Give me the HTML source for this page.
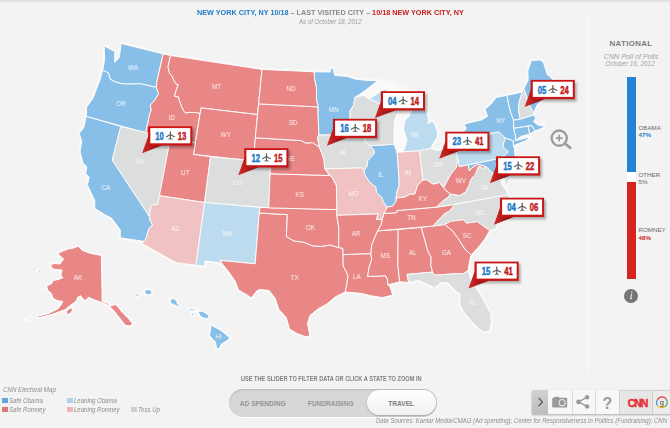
<!DOCTYPE html>
<html><head><meta charset="utf-8">
<style>
html,body{margin:0;padding:0;}
body{width:670px;height:428px;overflow:hidden;position:relative;background:#f3f3f3;font-family:"Liberation Sans",sans-serif;}
.abs{position:absolute;}
#topshade{left:0;top:0;width:670px;height:3px;background:linear-gradient(#dcdcdc,rgba(243,243,243,0));}
#hdr{left:196.7px;top:7.9px;font-weight:bold;font-size:7.8px;white-space:nowrap;transform-origin:0 0;transform:scaleX(0.929);}
#hdr .b{color:#1f7ac9}#hdr .g{color:#8a8a8a}#hdr .r{color:#cc1b1b}
#asof{left:299px;top:17.6px;font-style:italic;font-size:7px;color:#9a9a9a;white-space:nowrap;transform-origin:0 0;transform:scaleX(0.87);}
#vline{left:588px;top:17px;width:1px;height:357px;background:#fbfbfb;}
svg#map{left:0;top:0;}
.nat{left:590px;width:80px;text-align:center;color:#7a7a7a;}
.cal{position:absolute;}
</style></head><body>
<div class="abs" id="topshade"></div>
<div class="abs" id="hdr"><span class="b">NEW YORK CITY, NY 10/18</span> <span class="g">– LAST VISITED CITY –</span> <span class="r">10/18 NEW YORK CITY, NY</span></div>
<div class="abs" id="asof">As of October 18, 2012</div>
<div class="abs" id="vline"></div>
<svg id="map" class="abs" width="670" height="428" viewBox="0 0 670 428">
<g filter="url(#lk)"><defs><filter id="lk"><feGaussianBlur stdDeviation="0.8"/></filter></defs><path fill="#f9f9f9" d="M354.9,97.4 L365.9,90.1 L378.0,80.3 L384.2,79.3 L396.3,82.9 L408.7,88.4 L414.7,92.2 L415.8,95.5 L411.6,93.2 L400.3,98.0 L393.1,98.1 L386.1,91.8 L373.6,96.0 L368.9,98.9 L363.8,95.4Z"/><path fill="#f9f9f9" d="M394.1,144.2 L397.2,153.1 L403.1,151.8 L405.2,146.6 L407.0,139.4 L403.5,129.4 L405.0,120.0 L409.4,116.0 L410.0,113.6 L413.4,108.5 L415.2,103.7 L408.7,102.2 L400.9,104.2 L397.2,106.9 L393.0,114.2 L397.6,111.5 L394.5,121.0 L393.9,132.7Z"/></g>
<g stroke="#ffffff" stroke-width="2.6" stroke-linejoin="round" stroke-opacity="0.75" fill="#fafafa">
<path d="M104.3,45.8 L110.0,49.0 L114.9,51.6 L114.6,62.2 L119.1,58.1 L120.5,49.1 L120.9,43.4 L163.2,53.9 L156.7,82.4 L156.5,87.5 L140.3,83.7 L137.0,83.8 L127.8,84.1 L122.1,83.8 L115.9,82.1 L110.0,79.2 L108.5,72.9 L102.6,70.3 L104.0,63.2 L104.6,58.6 L104.4,51.5Z"/>
<path d="M102.6,70.3 L108.5,72.9 L110.0,79.2 L115.9,82.1 L122.1,83.8 L127.8,84.1 L137.0,83.8 L140.3,83.7 L156.5,87.5 L158.7,93.9 L154.7,100.1 L150.3,105.1 L151.3,110.1 L149.8,113.4 L145.6,132.8 L86.3,116.4 L86.7,106.9 L93.1,98.1 L100.4,78.8Z"/>
<path d="M86.3,116.4 L120.9,126.5 L112.2,160.0 L149.6,216.7 L149.7,219.0 L152.7,225.3 L149.2,228.0 L146.0,238.6 L143.5,241.3 L120.3,237.8 L120.3,230.0 L115.1,222.8 L111.4,218.0 L105.3,214.9 L94.7,208.4 L94.8,200.9 L87.3,184.7 L89.4,177.6 L85.7,173.6 L86.8,166.8 L83.1,163.3 L80.1,151.6 L81.8,141.4 L79.2,133.4 L83.8,127.6 L85.7,118.6Z"/>
<path d="M120.9,126.5 L170.4,138.3 L159.4,195.7 L157.7,204.6 L152.4,204.7 L150.4,207.7 L149.6,216.7 L112.2,160.0Z"/>
<path d="M163.2,53.9 L170.5,55.5 L168.0,66.8 L169.5,73.2 L172.1,76.1 L174.0,80.6 L176.5,84.3 L178.3,84.3 L176.1,90.4 L174.5,96.4 L178.5,96.8 L179.5,100.6 L181.4,106.2 L184.1,111.5 L185.6,112.8 L189.0,112.4 L196.5,112.5 L200.0,113.7 L195.3,142.7 L145.6,132.8 L149.8,113.4 L151.3,110.1 L150.3,105.1 L154.7,100.1 L158.7,93.9 L156.5,87.5 L156.7,82.4Z"/>
<path d="M170.5,55.5 L262.0,69.4 L257.5,114.6 L201.0,107.9 L200.0,113.7 L196.5,112.5 L189.0,112.4 L185.6,112.8 L184.1,111.5 L181.4,106.2 L179.5,100.6 L178.5,96.8 L174.5,96.4 L176.1,90.4 L178.3,84.3 L176.5,84.3 L174.0,80.6 L172.1,76.1 L169.5,73.2 L168.0,66.8Z"/>
<path d="M201.0,107.9 L257.5,114.6 L253.4,161.0 L193.5,154.4Z"/>
<path d="M170.4,138.3 L195.3,142.7 L193.5,154.4 L210.5,156.7 L204.6,202.5 L159.4,195.7Z"/>
<path d="M210.5,156.7 L270.7,162.2 L268.7,207.9 L204.6,202.5Z"/>
<path d="M159.4,195.7 L204.6,202.5 L196.0,265.2 L176.2,262.7 L142.2,243.6 L143.5,241.3 L146.0,238.6 L149.2,228.0 L152.7,225.3 L149.7,219.0 L149.6,216.7 L150.4,207.7 L152.4,204.7 L157.7,204.6Z"/>
<path d="M204.6,202.5 L260.0,207.4 L259.2,213.0 L255.2,263.8 L220.7,260.4 L221.6,262.9 L205.1,261.1 L204.4,266.1 L196.0,265.2Z"/>
<path d="M259.2,213.0 L287.3,214.6 L286.4,236.6 L293.8,240.9 L304.2,242.3 L312.7,245.8 L321.2,246.4 L329.9,245.0 L338.7,247.5 L342.9,248.4 L343.0,254.6 L343.2,265.9 L345.6,270.4 L348.1,276.0 L346.7,285.1 L345.2,292.0 L335.4,296.8 L327.0,303.9 L318.5,308.6 L309.9,315.5 L307.5,323.6 L309.8,335.7 L306.0,336.8 L297.7,333.8 L289.6,329.1 L286.2,317.5 L278.6,309.1 L275.4,298.6 L269.1,290.5 L259.3,289.4 L256.1,291.5 L251.5,298.0 L247.8,295.4 L238.4,289.8 L235.3,281.4 L229.4,272.7 L221.6,262.9 L220.7,260.4 L255.2,263.8Z"/>
<path d="M260.0,207.4 L336.7,209.6 L336.8,215.3 L338.8,227.7 L338.7,247.5 L329.9,245.0 L321.2,246.4 L312.7,245.8 L304.2,242.3 L293.8,240.9 L286.4,236.6 L287.3,214.6 L259.2,213.0Z"/>
<path d="M270.1,173.8 L329.7,175.5 L332.6,177.2 L333.6,180.6 L336.4,185.2 L336.8,209.6 L268.7,207.9Z"/>
<path d="M255.3,137.8 L301.5,140.6 L305.7,143.0 L312.5,142.6 L319.0,146.8 L322.2,153.7 L324.1,160.6 L324.7,168.7 L329.7,175.5 L270.1,173.8 L270.7,162.2 L253.4,161.0Z"/>
<path d="M258.6,103.9 L318.2,106.9 L318.1,113.1 L318.9,135.1 L317.6,137.5 L319.0,146.8 L312.5,142.6 L305.7,143.0 L301.5,140.6 L255.3,137.8Z"/>
<path d="M262.0,69.4 L314.2,71.8 L314.6,78.6 L316.5,87.8 L316.5,99.2 L318.2,106.9 L258.6,103.9Z"/>
<path d="M314.2,71.8 L330.4,72.0 L330.4,67.7 L333.1,68.6 L334.6,75.4 L347.2,76.4 L355.1,79.1 L363.0,80.0 L371.0,80.7 L378.0,80.3 L365.9,90.1 L354.9,97.4 L353.6,105.2 L350.0,111.2 L349.9,120.5 L354.3,122.7 L357.9,126.7 L364.2,134.5 L318.9,135.1 L318.1,113.1 L318.2,106.9 L316.5,99.2 L316.5,87.8 L314.6,78.6Z"/>
<path d="M318.9,135.1 L364.2,134.5 L365.7,142.5 L369.9,145.8 L374.1,150.2 L374.3,153.6 L367.7,160.8 L367.1,166.6 L364.2,170.5 L361.6,167.9 L325.5,168.9 L324.7,168.7 L324.1,160.6 L322.2,153.7 L319.0,146.8 L317.6,137.5Z"/>
<path d="M325.5,168.9 L361.6,167.9 L364.2,170.5 L364.8,174.7 L369.1,181.4 L372.4,184.6 L376.1,187.3 L376.4,192.4 L382.1,197.7 L383.0,201.1 L386.7,207.1 L386.4,209.4 L383.9,213.5 L382.4,219.3 L376.3,219.6 L378.0,213.9 L336.8,215.3 L336.8,209.6 L336.4,185.2 L333.6,180.6 L332.6,177.2 L329.7,175.5Z"/>
<path d="M336.8,215.3 L378.0,213.9 L376.3,219.6 L382.4,219.3 L381.0,225.0 L377.6,230.9 L375.1,236.7 L371.8,244.7 L370.9,253.8 L343.0,254.6 L342.9,248.4 L338.7,247.5 L338.8,227.7Z"/>
<path d="M343.0,254.6 L370.9,253.8 L371.7,259.4 L369.1,267.4 L367.6,276.5 L385.8,275.8 L387.6,280.2 L387.9,284.8 L390.1,286.9 L392.6,294.8 L388.6,296.1 L382.6,297.6 L371.3,295.8 L361.0,293.3 L345.2,292.0 L346.7,285.1 L348.1,276.0 L345.6,270.4 L343.2,265.9Z"/>
<path d="M377.6,230.9 L397.1,229.6 L398.2,230.7 L397.8,264.8 L399.7,281.8 L387.9,284.8 L387.6,280.2 L385.8,275.8 L367.6,276.5 L369.1,267.4 L371.7,259.4 L370.9,253.8 L371.8,244.7 L375.1,236.7Z"/>
<path d="M397.1,229.6 L421.3,227.4 L428.1,251.9 L431.2,257.3 L430.7,265.4 L432.6,272.1 L407.0,274.4 L408.7,282.3 L399.7,281.8 L397.8,264.8 L398.2,230.7Z"/>
<path d="M421.3,227.4 L444.6,224.5 L452.2,230.4 L458.4,238.7 L465.0,249.3 L471.2,254.9 L469.5,261.4 L468.1,270.6 L463.1,273.9 L461.0,273.4 L434.4,275.2 L432.6,272.1 L430.7,265.4 L431.2,257.3 L428.1,251.9Z"/>
<path d="M407.0,274.4 L432.6,272.1 L434.4,275.2 L461.0,273.4 L463.1,273.9 L468.1,270.6 L471.4,280.7 L476.9,289.1 L483.0,299.6 L490.7,313.3 L491.2,323.8 L489.5,330.6 L483.4,332.2 L474.7,325.0 L469.5,318.9 L462.9,310.7 L459.8,304.3 L460.2,293.9 L455.6,291.1 L448.2,282.9 L441.1,282.6 L434.6,287.9 L429.2,285.1 L418.6,280.4 L408.7,282.3Z"/>
<path d="M377.6,230.9 L433.2,226.0 L435.8,222.8 L440.0,218.8 L444.9,213.5 L450.1,210.9 L454.9,204.4 L436.6,207.1 L396.8,210.6 L396.9,212.6 L383.9,213.5 L382.4,219.3 L381.0,225.0Z"/>
<path d="M383.9,213.5 L396.9,212.6 L396.8,210.6 L436.6,207.1 L442.2,201.7 L448.0,197.2 L450.5,194.0 L446.0,190.6 L443.7,187.8 L439.3,182.3 L433.3,184.1 L426.5,179.6 L422.9,180.1 L417.5,185.4 L414.8,193.8 L409.5,194.3 L404.4,197.1 L396.1,197.9 L395.8,201.3 L392.5,206.1 L386.7,207.1 L386.4,209.4Z"/>
<path d="M369.9,145.8 L394.1,144.2 L397.2,153.1 L399.2,179.9 L399.0,185.6 L396.9,192.1 L396.1,197.9 L395.8,201.3 L392.5,206.1 L386.7,207.1 L383.0,201.1 L382.1,197.7 L376.4,192.4 L376.1,187.3 L372.4,184.6 L369.1,181.4 L364.8,174.7 L364.2,170.5 L367.1,166.6 L367.7,160.8 L374.3,153.6 L374.1,150.2Z"/>
<path d="M397.1,152.4 L419.7,150.5 L422.9,180.1 L417.5,185.4 L414.8,193.8 L409.5,194.3 L404.4,197.1 L396.1,197.9 L396.9,192.1 L399.0,185.6 L399.2,179.9Z"/>
<path d="M419.7,150.5 L430.8,148.4 L437.5,150.5 L445.7,148.4 L454.8,141.0 L457.3,156.2 L457.5,161.4 L456.3,167.5 L452.2,172.4 L449.3,177.1 L446.5,182.3 L443.7,187.8 L439.3,182.3 L433.3,184.1 L426.5,179.6 L422.9,180.1Z"/>
<path d="M403.1,151.8 L419.7,150.5 L430.8,148.4 L433.2,143.7 L437.3,137.2 L437.5,132.5 L434.7,123.7 L432.0,121.3 L428.2,123.7 L428.3,117.9 L426.6,111.2 L420.4,106.4 L415.2,103.7 L413.4,108.5 L410.0,113.6 L409.4,116.0 L405.0,120.0 L403.5,129.4 L407.0,139.4 L405.2,146.6Z"/>
<path d="M368.9,98.9 L379.9,103.7 L388.1,105.4 L393.0,114.2 L397.2,106.9 L400.9,104.2 L408.7,102.2 L415.2,103.1 L420.5,100.6 L418.2,95.2 L411.6,93.2 L400.3,98.0 L393.1,98.1 L386.1,91.8 L388.9,87.5 L381.2,91.0 L373.6,96.0Z"/>
<path d="M354.9,97.4 L363.8,95.4 L368.9,98.9 L379.9,103.7 L388.1,105.4 L393.0,114.2 L397.6,111.5 L394.5,121.0 L393.9,132.7 L394.1,144.2 L369.9,145.8 L365.7,142.5 L364.2,134.5 L357.9,126.7 L354.3,122.7 L349.9,120.5 L350.0,111.2 L353.6,105.2Z"/>
<path d="M454.8,141.0 L460.6,136.4 L461.1,139.4 L498.2,131.8 L500.8,133.6 L505.4,138.1 L503.3,144.3 L503.2,147.3 L508.4,151.7 L505.8,154.5 L502.7,156.6 L500.4,158.3 L459.1,166.7Z"/>
<path d="M461.1,139.4 L498.2,131.8 L500.8,133.6 L505.4,138.1 L513.2,140.8 L513.2,144.3 L514.3,145.3 L525.7,140.8 L530.3,136.8 L521.7,139.2 L515.3,140.4 L515.7,136.8 L513.6,128.4 L513.6,120.2 L510.2,111.0 L506.8,95.3 L496.1,97.5 L490.9,104.3 L485.1,108.9 L487.5,116.4 L481.3,120.0 L464.5,123.9 L465.0,126.9 L466.5,127.8 L460.6,136.4Z"/>
<path d="M506.8,95.3 L521.4,92.3 L521.8,93.5 L519.5,101.0 L518.3,109.4 L520.3,119.2 L513.6,120.2 L510.2,111.0Z"/>
<path d="M521.4,92.3 L523.9,88.3 L526.9,97.1 L529.2,104.9 L532.2,110.2 L533.7,112.6 L533.4,115.1 L520.3,119.2 L518.3,109.4 L519.5,101.0 L521.8,93.5Z"/>
<path d="M523.9,88.3 L528.1,80.2 L527.9,70.7 L531.3,60.8 L539.4,59.8 L543.3,62.0 L547.3,74.6 L551.0,77.6 L557.3,85.6 L550.9,92.4 L544.1,97.9 L537.4,104.4 L533.7,112.6 L532.2,110.2 L529.2,104.9 L526.9,97.1Z"/>
<path d="M513.6,128.4 L513.6,120.2 L520.3,119.2 L533.4,115.1 L536.0,117.7 L533.7,121.7 L538.1,125.0 L543.7,126.1 L542.7,122.8 L544.4,126.9 L539.3,129.4 L535.2,130.8 L531.4,125.5 L527.9,126.1Z"/>
<path d="M527.9,126.1 L531.4,125.5 L535.2,130.8 L529.6,134.0Z"/>
<path d="M513.6,128.4 L527.9,126.1 L529.6,134.0 L520.9,136.4 L515.3,140.4 L515.7,136.8Z"/>
<path d="M505.4,138.1 L513.2,140.8 L513.2,144.3 L513.7,146.5 L514.5,148.8 L515.0,155.2 L513.7,160.7 L509.9,165.9 L506.7,162.1 L502.8,159.3 L502.7,156.6 L505.8,154.5 L508.4,151.7 L503.2,147.3 L503.3,144.3Z"/>
<path d="M500.4,158.3 L502.7,156.6 L502.8,159.3 L505.0,162.4 L509.4,167.5 L510.4,171.5 L504.6,172.7Z"/>
<path d="M468.2,164.9 L500.4,158.3 L504.6,172.7 L510.4,171.5 L509.9,176.6 L504.2,178.8 L500.7,171.7 L496.2,164.2 L496.4,168.9 L500.4,178.3 L491.6,172.3 L486.8,167.3 L484.6,166.3 L477.9,164.3 L473.0,167.1 L469.3,170.9Z"/>
<path d="M436.6,207.1 L454.9,204.4 L508.2,194.7 L505.8,189.8 L501.8,184.6 L500.4,178.3 L491.6,172.3 L486.8,167.3 L484.6,166.3 L484.1,168.7 L478.7,166.0 L475.4,174.4 L470.8,179.5 L469.1,185.2 L465.7,191.8 L459.8,195.5 L450.5,194.0 L448.0,197.2 L442.2,201.7Z"/>
<path d="M509.9,176.6 L504.2,178.8 L506.0,188.6 L507.8,182.2Z"/>
<path d="M457.3,156.2 L459.1,166.7 L468.2,164.9 L469.3,170.9 L473.0,167.1 L477.9,164.3 L484.6,166.3 L484.1,168.7 L478.7,166.0 L475.4,174.4 L470.8,179.5 L469.1,185.2 L465.7,191.8 L459.8,195.5 L450.5,194.0 L446.0,190.6 L443.7,187.8 L446.5,182.3 L449.3,177.1 L452.2,172.4 L456.3,167.5 L457.5,161.4Z"/>
<path d="M433.2,226.0 L444.6,224.5 L450.8,221.3 L463.5,219.8 L466.5,223.2 L477.1,221.6 L489.7,230.4 L495.7,228.7 L498.3,222.3 L507.0,217.0 L510.6,211.5 L514.8,208.8 L512.3,201.6 L508.2,194.7 L454.9,204.4 L450.1,210.9 L444.9,213.5 L440.0,218.8 L435.8,222.8Z"/>
<path d="M444.6,224.5 L450.8,221.3 L463.5,219.8 L466.5,223.2 L477.1,221.6 L489.7,230.4 L484.9,239.0 L478.5,247.1 L471.2,254.9 L465.0,249.3 L458.4,238.7 L452.2,230.4Z"/>
<path d="M58.0,253.3 L62.0,251.5 L67.8,249.1 L72.0,248.4 L78.3,246.3 L82.5,250.5 L90.2,253.3 L101.3,255.4 L101.8,280.0 L102.2,301.4 L107.2,303.1 L110.5,306.3 L114.6,304.7 L117.0,305.5 L122.0,312.1 L128.5,318.7 L132.6,323.6 L130.2,326.0 L125.2,325.2 L119.5,317.8 L112.9,309.6 L107.2,304.7 L102.2,302.6 L94.7,299.9 L88.3,297.3 L85.8,300.6 L82.5,298.5 L80.9,295.7 L77.6,297.3 L76.0,301.4 L71.0,304.7 L65.3,309.6 L60.4,311.3 L51.3,314.6 L41.5,317.0 L36.6,317.8 L37.4,316.2 L48.0,313.7 L57.9,308.8 L61.2,304.7 L62.8,301.4 L57.0,300.5 L53.0,298.1 L51.3,293.2 L47.5,290.0 L46.8,286.2 L51.7,283.4 L53.1,280.6 L58.0,279.5 L62.9,277.8 L60.8,275.0 L62.2,270.1 L56.0,269.5 L52.4,268.7 L50.3,264.5 L55.0,263.5 L60.0,264.0 L63.6,258.9 L60.0,256.0Z"/><path d="M66.9,310.5 L70.5,308 L72.7,309 L71.5,312.5 L68,314.6 L66.5,313 Z"/><path d="M38.4,270.5 L41.2,271.5 L40.5,273.6 L38.6,272.5 Z"/><path d="M41.2,289.7 L43.3,290 L43,291.3 L41.3,291 Z"/><path d="M29,318.3 L31.5,317.8 L31.2,319.3 L29.3,319.5Z"/><path d="M24,319.6 L26,319.2 L25.8,320.6Z"/>
<g fill="#88bfe9"><ellipse cx="96.6" cy="218.4" rx="1" ry="0.6"/><ellipse cx="99.3" cy="218.7" rx="1" ry="0.6"/><ellipse cx="110.2" cy="228.4" rx="0.8" ry="0.8"/><ellipse cx="108.1" cy="234.2" rx="0.6" ry="0.6"/></g><path d="M135.5,294.5 L137.5,293.8 L138.8,295.5 L137,297 Z"/><path d="M144.5,290.5 L148,289.5 L151.5,290.5 L151.8,293.5 L149,295 L145.5,294 Z"/><path d="M170,300 L173.5,298.5 L176.5,300.5 L177.5,304 L180,305.5 L178,306.5 L173.5,304.5 L170.5,303 Z"/><path d="M187.5,308.5 L192,308.8 L196.5,309.5 L195.5,310.5 L190,310.2 Z"/><path d="M191.5,313 L193.8,313 L194.5,315 L192.5,315.5 Z"/><path d="M198,311.5 L202,311 L206,313.5 L209.5,316 L207.5,318.5 L203.5,318 L200,316 Z"/><path d="M211,325 L214.5,327 L221,330.5 L226,334.5 L230,338 L226.5,341 L221.5,344 L219,349 L216.5,348.5 L215.5,342 L212.5,339 L209.5,335 L210.5,330 Z"/>
</g>
<g stroke="#fbfbfb" stroke-width="1.0" stroke-linejoin="round">
<path fill="#88bfe9" d="M104.3,45.8 L110.0,49.0 L114.9,51.6 L114.6,62.2 L119.1,58.1 L120.5,49.1 L120.9,43.4 L163.2,53.9 L156.7,82.4 L156.5,87.5 L140.3,83.7 L137.0,83.8 L127.8,84.1 L122.1,83.8 L115.9,82.1 L110.0,79.2 L108.5,72.9 L102.6,70.3 L104.0,63.2 L104.6,58.6 L104.4,51.5Z"/>
<path fill="#88bfe9" d="M102.6,70.3 L108.5,72.9 L110.0,79.2 L115.9,82.1 L122.1,83.8 L127.8,84.1 L137.0,83.8 L140.3,83.7 L156.5,87.5 L158.7,93.9 L154.7,100.1 L150.3,105.1 L151.3,110.1 L149.8,113.4 L145.6,132.8 L86.3,116.4 L86.7,106.9 L93.1,98.1 L100.4,78.8Z"/>
<path fill="#88bfe9" d="M86.3,116.4 L120.9,126.5 L112.2,160.0 L149.6,216.7 L149.7,219.0 L152.7,225.3 L149.2,228.0 L146.0,238.6 L143.5,241.3 L120.3,237.8 L120.3,230.0 L115.1,222.8 L111.4,218.0 L105.3,214.9 L94.7,208.4 L94.8,200.9 L87.3,184.7 L89.4,177.6 L85.7,173.6 L86.8,166.8 L83.1,163.3 L80.1,151.6 L81.8,141.4 L79.2,133.4 L83.8,127.6 L85.7,118.6Z"/>
<path fill="#dcdede" d="M120.9,126.5 L170.4,138.3 L159.4,195.7 L157.7,204.6 L152.4,204.7 L150.4,207.7 L149.6,216.7 L112.2,160.0Z"/>
<path fill="#e98786" d="M163.2,53.9 L170.5,55.5 L168.0,66.8 L169.5,73.2 L172.1,76.1 L174.0,80.6 L176.5,84.3 L178.3,84.3 L176.1,90.4 L174.5,96.4 L178.5,96.8 L179.5,100.6 L181.4,106.2 L184.1,111.5 L185.6,112.8 L189.0,112.4 L196.5,112.5 L200.0,113.7 L195.3,142.7 L145.6,132.8 L149.8,113.4 L151.3,110.1 L150.3,105.1 L154.7,100.1 L158.7,93.9 L156.5,87.5 L156.7,82.4Z"/>
<path fill="#e98786" d="M170.5,55.5 L262.0,69.4 L257.5,114.6 L201.0,107.9 L200.0,113.7 L196.5,112.5 L189.0,112.4 L185.6,112.8 L184.1,111.5 L181.4,106.2 L179.5,100.6 L178.5,96.8 L174.5,96.4 L176.1,90.4 L178.3,84.3 L176.5,84.3 L174.0,80.6 L172.1,76.1 L169.5,73.2 L168.0,66.8Z"/>
<path fill="#e98786" d="M201.0,107.9 L257.5,114.6 L253.4,161.0 L193.5,154.4Z"/>
<path fill="#e98786" d="M170.4,138.3 L195.3,142.7 L193.5,154.4 L210.5,156.7 L204.6,202.5 L159.4,195.7Z"/>
<path fill="#dcdede" d="M210.5,156.7 L270.7,162.2 L268.7,207.9 L204.6,202.5Z"/>
<path fill="#f1c2c4" d="M159.4,195.7 L204.6,202.5 L196.0,265.2 L176.2,262.7 L142.2,243.6 L143.5,241.3 L146.0,238.6 L149.2,228.0 L152.7,225.3 L149.7,219.0 L149.6,216.7 L150.4,207.7 L152.4,204.7 L157.7,204.6Z"/>
<path fill="#bddbee" d="M204.6,202.5 L260.0,207.4 L259.2,213.0 L255.2,263.8 L220.7,260.4 L221.6,262.9 L205.1,261.1 L204.4,266.1 L196.0,265.2Z"/>
<path fill="#e98786" d="M259.2,213.0 L287.3,214.6 L286.4,236.6 L293.8,240.9 L304.2,242.3 L312.7,245.8 L321.2,246.4 L329.9,245.0 L338.7,247.5 L342.9,248.4 L343.0,254.6 L343.2,265.9 L345.6,270.4 L348.1,276.0 L346.7,285.1 L345.2,292.0 L335.4,296.8 L327.0,303.9 L318.5,308.6 L309.9,315.5 L307.5,323.6 L309.8,335.7 L306.0,336.8 L297.7,333.8 L289.6,329.1 L286.2,317.5 L278.6,309.1 L275.4,298.6 L269.1,290.5 L259.3,289.4 L256.1,291.5 L251.5,298.0 L247.8,295.4 L238.4,289.8 L235.3,281.4 L229.4,272.7 L221.6,262.9 L220.7,260.4 L255.2,263.8Z"/>
<path fill="#e98786" d="M260.0,207.4 L336.7,209.6 L336.8,215.3 L338.8,227.7 L338.7,247.5 L329.9,245.0 L321.2,246.4 L312.7,245.8 L304.2,242.3 L293.8,240.9 L286.4,236.6 L287.3,214.6 L259.2,213.0Z"/>
<path fill="#e98786" d="M270.1,173.8 L329.7,175.5 L332.6,177.2 L333.6,180.6 L336.4,185.2 L336.8,209.6 L268.7,207.9Z"/>
<path fill="#e98786" d="M255.3,137.8 L301.5,140.6 L305.7,143.0 L312.5,142.6 L319.0,146.8 L322.2,153.7 L324.1,160.6 L324.7,168.7 L329.7,175.5 L270.1,173.8 L270.7,162.2 L253.4,161.0Z"/>
<path fill="#e98786" d="M258.6,103.9 L318.2,106.9 L318.1,113.1 L318.9,135.1 L317.6,137.5 L319.0,146.8 L312.5,142.6 L305.7,143.0 L301.5,140.6 L255.3,137.8Z"/>
<path fill="#e98786" d="M262.0,69.4 L314.2,71.8 L314.6,78.6 L316.5,87.8 L316.5,99.2 L318.2,106.9 L258.6,103.9Z"/>
<path fill="#88bfe9" d="M314.2,71.8 L330.4,72.0 L330.4,67.7 L333.1,68.6 L334.6,75.4 L347.2,76.4 L355.1,79.1 L363.0,80.0 L371.0,80.7 L378.0,80.3 L365.9,90.1 L354.9,97.4 L353.6,105.2 L350.0,111.2 L349.9,120.5 L354.3,122.7 L357.9,126.7 L364.2,134.5 L318.9,135.1 L318.1,113.1 L318.2,106.9 L316.5,99.2 L316.5,87.8 L314.6,78.6Z"/>
<path fill="#dcdede" d="M318.9,135.1 L364.2,134.5 L365.7,142.5 L369.9,145.8 L374.1,150.2 L374.3,153.6 L367.7,160.8 L367.1,166.6 L364.2,170.5 L361.6,167.9 L325.5,168.9 L324.7,168.7 L324.1,160.6 L322.2,153.7 L319.0,146.8 L317.6,137.5Z"/>
<path fill="#f1c2c4" d="M325.5,168.9 L361.6,167.9 L364.2,170.5 L364.8,174.7 L369.1,181.4 L372.4,184.6 L376.1,187.3 L376.4,192.4 L382.1,197.7 L383.0,201.1 L386.7,207.1 L386.4,209.4 L383.9,213.5 L382.4,219.3 L376.3,219.6 L378.0,213.9 L336.8,215.3 L336.8,209.6 L336.4,185.2 L333.6,180.6 L332.6,177.2 L329.7,175.5Z"/>
<path fill="#e98786" d="M336.8,215.3 L378.0,213.9 L376.3,219.6 L382.4,219.3 L381.0,225.0 L377.6,230.9 L375.1,236.7 L371.8,244.7 L370.9,253.8 L343.0,254.6 L342.9,248.4 L338.7,247.5 L338.8,227.7Z"/>
<path fill="#e98786" d="M343.0,254.6 L370.9,253.8 L371.7,259.4 L369.1,267.4 L367.6,276.5 L385.8,275.8 L387.6,280.2 L387.9,284.8 L390.1,286.9 L392.6,294.8 L388.6,296.1 L382.6,297.6 L371.3,295.8 L361.0,293.3 L345.2,292.0 L346.7,285.1 L348.1,276.0 L345.6,270.4 L343.2,265.9Z"/>
<path fill="#e98786" d="M377.6,230.9 L397.1,229.6 L398.2,230.7 L397.8,264.8 L399.7,281.8 L387.9,284.8 L387.6,280.2 L385.8,275.8 L367.6,276.5 L369.1,267.4 L371.7,259.4 L370.9,253.8 L371.8,244.7 L375.1,236.7Z"/>
<path fill="#e98786" d="M397.1,229.6 L421.3,227.4 L428.1,251.9 L431.2,257.3 L430.7,265.4 L432.6,272.1 L407.0,274.4 L408.7,282.3 L399.7,281.8 L397.8,264.8 L398.2,230.7Z"/>
<path fill="#e98786" d="M421.3,227.4 L444.6,224.5 L452.2,230.4 L458.4,238.7 L465.0,249.3 L471.2,254.9 L469.5,261.4 L468.1,270.6 L463.1,273.9 L461.0,273.4 L434.4,275.2 L432.6,272.1 L430.7,265.4 L431.2,257.3 L428.1,251.9Z"/>
<path fill="#dcdede" d="M407.0,274.4 L432.6,272.1 L434.4,275.2 L461.0,273.4 L463.1,273.9 L468.1,270.6 L471.4,280.7 L476.9,289.1 L483.0,299.6 L490.7,313.3 L491.2,323.8 L489.5,330.6 L483.4,332.2 L474.7,325.0 L469.5,318.9 L462.9,310.7 L459.8,304.3 L460.2,293.9 L455.6,291.1 L448.2,282.9 L441.1,282.6 L434.6,287.9 L429.2,285.1 L418.6,280.4 L408.7,282.3Z"/>
<path fill="#e98786" d="M377.6,230.9 L433.2,226.0 L435.8,222.8 L440.0,218.8 L444.9,213.5 L450.1,210.9 L454.9,204.4 L436.6,207.1 L396.8,210.6 L396.9,212.6 L383.9,213.5 L382.4,219.3 L381.0,225.0Z"/>
<path fill="#e98786" d="M383.9,213.5 L396.9,212.6 L396.8,210.6 L436.6,207.1 L442.2,201.7 L448.0,197.2 L450.5,194.0 L446.0,190.6 L443.7,187.8 L439.3,182.3 L433.3,184.1 L426.5,179.6 L422.9,180.1 L417.5,185.4 L414.8,193.8 L409.5,194.3 L404.4,197.1 L396.1,197.9 L395.8,201.3 L392.5,206.1 L386.7,207.1 L386.4,209.4Z"/>
<path fill="#88bfe9" d="M369.9,145.8 L394.1,144.2 L397.2,153.1 L399.2,179.9 L399.0,185.6 L396.9,192.1 L396.1,197.9 L395.8,201.3 L392.5,206.1 L386.7,207.1 L383.0,201.1 L382.1,197.7 L376.4,192.4 L376.1,187.3 L372.4,184.6 L369.1,181.4 L364.8,174.7 L364.2,170.5 L367.1,166.6 L367.7,160.8 L374.3,153.6 L374.1,150.2Z"/>
<path fill="#f1c2c4" d="M397.1,152.4 L419.7,150.5 L422.9,180.1 L417.5,185.4 L414.8,193.8 L409.5,194.3 L404.4,197.1 L396.1,197.9 L396.9,192.1 L399.0,185.6 L399.2,179.9Z"/>
<path fill="#dcdede" d="M419.7,150.5 L430.8,148.4 L437.5,150.5 L445.7,148.4 L454.8,141.0 L457.3,156.2 L457.5,161.4 L456.3,167.5 L452.2,172.4 L449.3,177.1 L446.5,182.3 L443.7,187.8 L439.3,182.3 L433.3,184.1 L426.5,179.6 L422.9,180.1Z"/>
<path fill="#bddbee" d="M403.1,151.8 L419.7,150.5 L430.8,148.4 L433.2,143.7 L437.3,137.2 L437.5,132.5 L434.7,123.7 L432.0,121.3 L428.2,123.7 L428.3,117.9 L426.6,111.2 L420.4,106.4 L415.2,103.7 L413.4,108.5 L410.0,113.6 L409.4,116.0 L405.0,120.0 L403.5,129.4 L407.0,139.4 L405.2,146.6Z"/>
<path fill="#bddbee" d="M368.9,98.9 L379.9,103.7 L388.1,105.4 L393.0,114.2 L397.2,106.9 L400.9,104.2 L408.7,102.2 L415.2,103.1 L420.5,100.6 L418.2,95.2 L411.6,93.2 L400.3,98.0 L393.1,98.1 L386.1,91.8 L388.9,87.5 L381.2,91.0 L373.6,96.0Z"/>
<path fill="#dcdede" d="M354.9,97.4 L363.8,95.4 L368.9,98.9 L379.9,103.7 L388.1,105.4 L393.0,114.2 L397.6,111.5 L394.5,121.0 L393.9,132.7 L394.1,144.2 L369.9,145.8 L365.7,142.5 L364.2,134.5 L357.9,126.7 L354.3,122.7 L349.9,120.5 L350.0,111.2 L353.6,105.2Z"/>
<path fill="#bddbee" d="M454.8,141.0 L460.6,136.4 L461.1,139.4 L498.2,131.8 L500.8,133.6 L505.4,138.1 L503.3,144.3 L503.2,147.3 L508.4,151.7 L505.8,154.5 L502.7,156.6 L500.4,158.3 L459.1,166.7Z"/>
<path fill="#88bfe9" d="M461.1,139.4 L498.2,131.8 L500.8,133.6 L505.4,138.1 L513.2,140.8 L513.2,144.3 L514.3,145.3 L525.7,140.8 L530.3,136.8 L521.7,139.2 L515.3,140.4 L515.7,136.8 L513.6,128.4 L513.6,120.2 L510.2,111.0 L506.8,95.3 L496.1,97.5 L490.9,104.3 L485.1,108.9 L487.5,116.4 L481.3,120.0 L464.5,123.9 L465.0,126.9 L466.5,127.8 L460.6,136.4Z"/>
<path fill="#88bfe9" d="M506.8,95.3 L521.4,92.3 L521.8,93.5 L519.5,101.0 L518.3,109.4 L520.3,119.2 L513.6,120.2 L510.2,111.0Z"/>
<path fill="#dcdede" d="M521.4,92.3 L523.9,88.3 L526.9,97.1 L529.2,104.9 L532.2,110.2 L533.7,112.6 L533.4,115.1 L520.3,119.2 L518.3,109.4 L519.5,101.0 L521.8,93.5Z"/>
<path fill="#88bfe9" d="M523.9,88.3 L528.1,80.2 L527.9,70.7 L531.3,60.8 L539.4,59.8 L543.3,62.0 L547.3,74.6 L551.0,77.6 L557.3,85.6 L550.9,92.4 L544.1,97.9 L537.4,104.4 L533.7,112.6 L532.2,110.2 L529.2,104.9 L526.9,97.1Z"/>
<path fill="#88bfe9" d="M513.6,128.4 L513.6,120.2 L520.3,119.2 L533.4,115.1 L536.0,117.7 L533.7,121.7 L538.1,125.0 L543.7,126.1 L542.7,122.8 L544.4,126.9 L539.3,129.4 L535.2,130.8 L531.4,125.5 L527.9,126.1Z"/>
<path fill="#88bfe9" d="M527.9,126.1 L531.4,125.5 L535.2,130.8 L529.6,134.0Z"/>
<path fill="#88bfe9" d="M513.6,128.4 L527.9,126.1 L529.6,134.0 L520.9,136.4 L515.3,140.4 L515.7,136.8Z"/>
<path fill="#88bfe9" d="M505.4,138.1 L513.2,140.8 L513.2,144.3 L513.7,146.5 L514.5,148.8 L515.0,155.2 L513.7,160.7 L509.9,165.9 L506.7,162.1 L502.8,159.3 L502.7,156.6 L505.8,154.5 L508.4,151.7 L503.2,147.3 L503.3,144.3Z"/>
<path fill="#88bfe9" d="M500.4,158.3 L502.7,156.6 L502.8,159.3 L505.0,162.4 L509.4,167.5 L510.4,171.5 L504.6,172.7Z"/>
<path fill="#88bfe9" d="M468.2,164.9 L500.4,158.3 L504.6,172.7 L510.4,171.5 L509.9,176.6 L504.2,178.8 L500.7,171.7 L496.2,164.2 L496.4,168.9 L500.4,178.3 L491.6,172.3 L486.8,167.3 L484.6,166.3 L477.9,164.3 L473.0,167.1 L469.3,170.9Z"/>
<path fill="#dcdede" d="M436.6,207.1 L454.9,204.4 L508.2,194.7 L505.8,189.8 L501.8,184.6 L500.4,178.3 L491.6,172.3 L486.8,167.3 L484.6,166.3 L484.1,168.7 L478.7,166.0 L475.4,174.4 L470.8,179.5 L469.1,185.2 L465.7,191.8 L459.8,195.5 L450.5,194.0 L448.0,197.2 L442.2,201.7Z"/>
<path fill="#dcdede" d="M509.9,176.6 L504.2,178.8 L506.0,188.6 L507.8,182.2Z"/>
<path fill="#e98786" d="M457.3,156.2 L459.1,166.7 L468.2,164.9 L469.3,170.9 L473.0,167.1 L477.9,164.3 L484.6,166.3 L484.1,168.7 L478.7,166.0 L475.4,174.4 L470.8,179.5 L469.1,185.2 L465.7,191.8 L459.8,195.5 L450.5,194.0 L446.0,190.6 L443.7,187.8 L446.5,182.3 L449.3,177.1 L452.2,172.4 L456.3,167.5 L457.5,161.4Z"/>
<path fill="#dcdede" d="M433.2,226.0 L444.6,224.5 L450.8,221.3 L463.5,219.8 L466.5,223.2 L477.1,221.6 L489.7,230.4 L495.7,228.7 L498.3,222.3 L507.0,217.0 L510.6,211.5 L514.8,208.8 L512.3,201.6 L508.2,194.7 L454.9,204.4 L450.1,210.9 L444.9,213.5 L440.0,218.8 L435.8,222.8Z"/>
<path fill="#e98786" d="M444.6,224.5 L450.8,221.3 L463.5,219.8 L466.5,223.2 L477.1,221.6 L489.7,230.4 L484.9,239.0 L478.5,247.1 L471.2,254.9 L465.0,249.3 L458.4,238.7 L452.2,230.4Z"/>
<path fill="#e98786" d="M58.0,253.3 L62.0,251.5 L67.8,249.1 L72.0,248.4 L78.3,246.3 L82.5,250.5 L90.2,253.3 L101.3,255.4 L101.8,280.0 L102.2,301.4 L107.2,303.1 L110.5,306.3 L114.6,304.7 L117.0,305.5 L122.0,312.1 L128.5,318.7 L132.6,323.6 L130.2,326.0 L125.2,325.2 L119.5,317.8 L112.9,309.6 L107.2,304.7 L102.2,302.6 L94.7,299.9 L88.3,297.3 L85.8,300.6 L82.5,298.5 L80.9,295.7 L77.6,297.3 L76.0,301.4 L71.0,304.7 L65.3,309.6 L60.4,311.3 L51.3,314.6 L41.5,317.0 L36.6,317.8 L37.4,316.2 L48.0,313.7 L57.9,308.8 L61.2,304.7 L62.8,301.4 L57.0,300.5 L53.0,298.1 L51.3,293.2 L47.5,290.0 L46.8,286.2 L51.7,283.4 L53.1,280.6 L58.0,279.5 L62.9,277.8 L60.8,275.0 L62.2,270.1 L56.0,269.5 L52.4,268.7 L50.3,264.5 L55.0,263.5 L60.0,264.0 L63.6,258.9 L60.0,256.0Z"/><path fill="#e98786" d="M66.9,310.5 L70.5,308 L72.7,309 L71.5,312.5 L68,314.6 L66.5,313 Z"/><path fill="#e98786" d="M38.4,270.5 L41.2,271.5 L40.5,273.6 L38.6,272.5 Z"/><path fill="#e98786" d="M41.2,289.7 L43.3,290 L43,291.3 L41.3,291 Z"/><path fill="#e98786" d="M29,318.3 L31.5,317.8 L31.2,319.3 L29.3,319.5Z"/><path fill="#e98786" d="M24,319.6 L26,319.2 L25.8,320.6Z"/>
<g fill="#88bfe9"><ellipse cx="96.6" cy="218.4" rx="1" ry="0.6"/><ellipse cx="99.3" cy="218.7" rx="1" ry="0.6"/><ellipse cx="110.2" cy="228.4" rx="0.8" ry="0.8"/><ellipse cx="108.1" cy="234.2" rx="0.6" ry="0.6"/></g><path fill="#88bfe9" d="M135.5,294.5 L137.5,293.8 L138.8,295.5 L137,297 Z"/><path fill="#88bfe9" d="M144.5,290.5 L148,289.5 L151.5,290.5 L151.8,293.5 L149,295 L145.5,294 Z"/><path fill="#88bfe9" d="M170,300 L173.5,298.5 L176.5,300.5 L177.5,304 L180,305.5 L178,306.5 L173.5,304.5 L170.5,303 Z"/><path fill="#88bfe9" d="M187.5,308.5 L192,308.8 L196.5,309.5 L195.5,310.5 L190,310.2 Z"/><path fill="#88bfe9" d="M191.5,313 L193.8,313 L194.5,315 L192.5,315.5 Z"/><path fill="#88bfe9" d="M198,311.5 L202,311 L206,313.5 L209.5,316 L207.5,318.5 L203.5,318 L200,316 Z"/><path fill="#88bfe9" d="M211,325 L214.5,327 L221,330.5 L226,334.5 L230,338 L226.5,341 L221.5,344 L219,349 L216.5,348.5 L215.5,342 L212.5,339 L209.5,335 L210.5,330 Z"/>
</g>
<g fill="#fff" fill-opacity="0.88" font-size="6.3" text-anchor="middle" font-family="Liberation Sans, sans-serif"><text x="132.9" y="70.3">WA</text><text x="120.8" y="106.2">OR</text><text x="216.5" y="88.5">MT</text><text x="171.8" y="119.5">ID</text><text x="225.8" y="137.3">WY</text><text x="139.6" y="164.1">NV</text><text x="105.8" y="189.9">CA</text><text x="185.3" y="175.2">UT</text><text x="237.8" y="185.2">CO</text><text x="299.8" y="196.7">KS</text><text x="310.5" y="229.7">OK</text><text x="175.4" y="230.9">AZ</text><text x="227.1" y="235.6">NM</text><text x="294.6" y="280.2">TX</text><text x="290.7" y="160.9">NE</text><text x="291.0" y="91.3">ND</text><text x="293.0" y="125.3">SD</text><text x="333.7" y="111.8">MN</text><text x="342.9" y="154.7">IA</text><text x="380.6" y="176.6">IL</text><text x="408.0" y="175.3">IN</text><text x="415.1" y="136.9">MI</text><text x="437.8" y="166.6">OH</text><text x="500.5" y="122.6">NY</text><text x="460.8" y="182.5">WV</text><text x="423.0" y="201.2">KY</text><text x="484.6" y="190.4">VA</text><text x="480.6" y="214.5">NC</text><text x="353.6" y="196.0">MO</text><text x="356.1" y="235.9">AR</text><text x="411.4" y="220.3">TN</text><text x="467.1" y="237.8">SC</text><text x="385.2" y="258.4">MS</text><text x="412.9" y="254.6">AL</text><text x="446.5" y="255.4">GA</text><text x="356.8" y="278.9">LA</text><text x="472.7" y="305.1">FL</text><text x="78.0" y="279.6">AK</text><text x="218.5" y="339.3">HI</text></g>
<defs><linearGradient id="pg" x1="0" y1="0" x2="1" y2="0"><stop offset="0" stop-color="#d42a2a"/><stop offset="1" stop-color="#7a0a0a"/></linearGradient><filter id="sh" x="-20%" y="-20%" width="150%" height="160%"><feGaussianBlur stdDeviation="1.3"/></filter></defs>
<g>
<rect x="150.1" y="128.8" width="44.2" height="19.3" fill="#000" fill-opacity="0.28" filter="url(#sh)"/>
<path d="M148.6,135.3 L163.1,145.1 L142.1,153.3 Z" fill="url(#pg)"/>
<rect x="148.1" y="126.3" width="44.2" height="19.3" fill="#c81616"/>
<rect x="150.3" y="128.1" width="40.0" height="15.2" fill="#fff"/>
<text x="0" y="0" transform="translate(159.6,139.9) scale(0.74,1)" font-family="Liberation Sans, sans-serif" font-weight="bold" font-size="10.4" fill="#1c78c6" stroke="#1c78c6" stroke-width="0.45" text-anchor="middle">10</text>
<g transform="translate(170.4,135.5)" fill="none" stroke="#5e5e5e" stroke-linecap="round" stroke-linejoin="round"><path d="M0,-3.6 L0,3.4" stroke-width="1.2"/><path d="M-3.9,1.3 L0,-0.9 L3.9,1.3" stroke-width="1.1"/><path d="M-1.7,3.6 L0,2.9 L1.7,3.6" stroke-width="0.9"/></g>
<text x="0" y="0" transform="translate(182.1,139.9) scale(0.74,1)" font-family="Liberation Sans, sans-serif" font-weight="bold" font-size="10.4" fill="#c41818" stroke="#c41818" stroke-width="0.45" text-anchor="middle">13</text>
</g>
<g>
<rect x="246.2" y="150.7" width="44.2" height="19.3" fill="#000" fill-opacity="0.28" filter="url(#sh)"/>
<path d="M244.7,157.2 L259.2,167.0 L238.2,175.2 Z" fill="url(#pg)"/>
<rect x="244.2" y="148.2" width="44.2" height="19.3" fill="#c81616"/>
<rect x="246.4" y="150.0" width="40.0" height="15.2" fill="#fff"/>
<text x="0" y="0" transform="translate(255.7,161.8) scale(0.74,1)" font-family="Liberation Sans, sans-serif" font-weight="bold" font-size="10.4" fill="#1c78c6" stroke="#1c78c6" stroke-width="0.45" text-anchor="middle">12</text>
<g transform="translate(266.5,157.39999999999998)" fill="none" stroke="#5e5e5e" stroke-linecap="round" stroke-linejoin="round"><path d="M0,-3.6 L0,3.4" stroke-width="1.2"/><path d="M-3.9,1.3 L0,-0.9 L3.9,1.3" stroke-width="1.1"/><path d="M-1.7,3.6 L0,2.9 L1.7,3.6" stroke-width="0.9"/></g>
<text x="0" y="0" transform="translate(278.2,161.8) scale(0.74,1)" font-family="Liberation Sans, sans-serif" font-weight="bold" font-size="10.4" fill="#c41818" stroke="#c41818" stroke-width="0.45" text-anchor="middle">15</text>
</g>
<g>
<rect x="334.9" y="121.3" width="44.2" height="19.3" fill="#000" fill-opacity="0.28" filter="url(#sh)"/>
<path d="M333.4,127.8 L347.9,137.6 L326.9,145.8 Z" fill="url(#pg)"/>
<rect x="332.9" y="118.8" width="44.2" height="19.3" fill="#c81616"/>
<rect x="335.1" y="120.6" width="40.0" height="15.2" fill="#fff"/>
<text x="0" y="0" transform="translate(344.4,132.4) scale(0.74,1)" font-family="Liberation Sans, sans-serif" font-weight="bold" font-size="10.4" fill="#1c78c6" stroke="#1c78c6" stroke-width="0.45" text-anchor="middle">16</text>
<g transform="translate(355.2,128.0)" fill="none" stroke="#5e5e5e" stroke-linecap="round" stroke-linejoin="round"><path d="M0,-3.6 L0,3.4" stroke-width="1.2"/><path d="M-3.9,1.3 L0,-0.9 L3.9,1.3" stroke-width="1.1"/><path d="M-1.7,3.6 L0,2.9 L1.7,3.6" stroke-width="0.9"/></g>
<text x="0" y="0" transform="translate(366.9,132.4) scale(0.74,1)" font-family="Liberation Sans, sans-serif" font-weight="bold" font-size="10.4" fill="#c41818" stroke="#c41818" stroke-width="0.45" text-anchor="middle">18</text>
</g>
<g>
<rect x="382.8" y="93.7" width="44.2" height="19.3" fill="#000" fill-opacity="0.28" filter="url(#sh)"/>
<path d="M381.3,100.2 L395.8,110.0 L374.8,118.2 Z" fill="url(#pg)"/>
<rect x="380.8" y="91.2" width="44.2" height="19.3" fill="#c81616"/>
<rect x="383.0" y="93.0" width="40.0" height="15.2" fill="#fff"/>
<text x="0" y="0" transform="translate(392.3,104.8) scale(0.74,1)" font-family="Liberation Sans, sans-serif" font-weight="bold" font-size="10.4" fill="#1c78c6" stroke="#1c78c6" stroke-width="0.45" text-anchor="middle">04</text>
<g transform="translate(403.1,100.4)" fill="none" stroke="#5e5e5e" stroke-linecap="round" stroke-linejoin="round"><path d="M0,-3.6 L0,3.4" stroke-width="1.2"/><path d="M-3.9,1.3 L0,-0.9 L3.9,1.3" stroke-width="1.1"/><path d="M-1.7,3.6 L0,2.9 L1.7,3.6" stroke-width="0.9"/></g>
<text x="0" y="0" transform="translate(414.8,104.8) scale(0.74,1)" font-family="Liberation Sans, sans-serif" font-weight="bold" font-size="10.4" fill="#c41818" stroke="#c41818" stroke-width="0.45" text-anchor="middle">14</text>
</g>
<g>
<rect x="447.2" y="134.2" width="44.2" height="19.3" fill="#000" fill-opacity="0.28" filter="url(#sh)"/>
<path d="M445.7,140.7 L460.2,150.5 L439.2,158.7 Z" fill="url(#pg)"/>
<rect x="445.2" y="131.7" width="44.2" height="19.3" fill="#c81616"/>
<rect x="447.4" y="133.5" width="40.0" height="15.2" fill="#fff"/>
<text x="0" y="0" transform="translate(456.7,145.3) scale(0.74,1)" font-family="Liberation Sans, sans-serif" font-weight="bold" font-size="10.4" fill="#1c78c6" stroke="#1c78c6" stroke-width="0.45" text-anchor="middle">23</text>
<g transform="translate(467.5,140.89999999999998)" fill="none" stroke="#5e5e5e" stroke-linecap="round" stroke-linejoin="round"><path d="M0,-3.6 L0,3.4" stroke-width="1.2"/><path d="M-3.9,1.3 L0,-0.9 L3.9,1.3" stroke-width="1.1"/><path d="M-1.7,3.6 L0,2.9 L1.7,3.6" stroke-width="0.9"/></g>
<text x="0" y="0" transform="translate(479.2,145.3) scale(0.74,1)" font-family="Liberation Sans, sans-serif" font-weight="bold" font-size="10.4" fill="#c41818" stroke="#c41818" stroke-width="0.45" text-anchor="middle">41</text>
</g>
<g>
<rect x="532.6" y="82.4" width="44.2" height="19.3" fill="#000" fill-opacity="0.28" filter="url(#sh)"/>
<path d="M531.1,88.9 L545.6,98.7 L524.6,106.9 Z" fill="url(#pg)"/>
<rect x="530.6" y="79.9" width="44.2" height="19.3" fill="#c81616"/>
<rect x="532.8" y="81.7" width="40.0" height="15.2" fill="#fff"/>
<text x="0" y="0" transform="translate(542.1,93.5) scale(0.74,1)" font-family="Liberation Sans, sans-serif" font-weight="bold" font-size="10.4" fill="#1c78c6" stroke="#1c78c6" stroke-width="0.45" text-anchor="middle">05</text>
<g transform="translate(552.9,89.10000000000001)" fill="none" stroke="#5e5e5e" stroke-linecap="round" stroke-linejoin="round"><path d="M0,-3.6 L0,3.4" stroke-width="1.2"/><path d="M-3.9,1.3 L0,-0.9 L3.9,1.3" stroke-width="1.1"/><path d="M-1.7,3.6 L0,2.9 L1.7,3.6" stroke-width="0.9"/></g>
<text x="0" y="0" transform="translate(564.6,93.5) scale(0.74,1)" font-family="Liberation Sans, sans-serif" font-weight="bold" font-size="10.4" fill="#c41818" stroke="#c41818" stroke-width="0.45" text-anchor="middle">24</text>
</g>
<g>
<rect x="497.9" y="158.8" width="44.2" height="19.3" fill="#000" fill-opacity="0.28" filter="url(#sh)"/>
<path d="M496.4,165.3 L510.9,175.1 L489.9,183.3 Z" fill="url(#pg)"/>
<rect x="495.9" y="156.3" width="44.2" height="19.3" fill="#c81616"/>
<rect x="498.1" y="158.1" width="40.0" height="15.2" fill="#fff"/>
<text x="0" y="0" transform="translate(507.4,169.9) scale(0.74,1)" font-family="Liberation Sans, sans-serif" font-weight="bold" font-size="10.4" fill="#1c78c6" stroke="#1c78c6" stroke-width="0.45" text-anchor="middle">15</text>
<g transform="translate(518.1999999999999,165.5)" fill="none" stroke="#5e5e5e" stroke-linecap="round" stroke-linejoin="round"><path d="M0,-3.6 L0,3.4" stroke-width="1.2"/><path d="M-3.9,1.3 L0,-0.9 L3.9,1.3" stroke-width="1.1"/><path d="M-1.7,3.6 L0,2.9 L1.7,3.6" stroke-width="0.9"/></g>
<text x="0" y="0" transform="translate(529.9,169.9) scale(0.74,1)" font-family="Liberation Sans, sans-serif" font-weight="bold" font-size="10.4" fill="#c41818" stroke="#c41818" stroke-width="0.45" text-anchor="middle">22</text>
</g>
<g>
<rect x="501.9" y="200.2" width="44.2" height="19.3" fill="#000" fill-opacity="0.28" filter="url(#sh)"/>
<path d="M500.4,206.7 L514.9,216.5 L493.9,224.7 Z" fill="url(#pg)"/>
<rect x="499.9" y="197.7" width="44.2" height="19.3" fill="#c81616"/>
<rect x="502.1" y="199.5" width="40.0" height="15.2" fill="#fff"/>
<text x="0" y="0" transform="translate(511.4,211.3) scale(0.74,1)" font-family="Liberation Sans, sans-serif" font-weight="bold" font-size="10.4" fill="#1c78c6" stroke="#1c78c6" stroke-width="0.45" text-anchor="middle">04</text>
<g transform="translate(522.1999999999999,206.89999999999998)" fill="none" stroke="#5e5e5e" stroke-linecap="round" stroke-linejoin="round"><path d="M0,-3.6 L0,3.4" stroke-width="1.2"/><path d="M-3.9,1.3 L0,-0.9 L3.9,1.3" stroke-width="1.1"/><path d="M-1.7,3.6 L0,2.9 L1.7,3.6" stroke-width="0.9"/></g>
<text x="0" y="0" transform="translate(533.9,211.3) scale(0.74,1)" font-family="Liberation Sans, sans-serif" font-weight="bold" font-size="10.4" fill="#c41818" stroke="#c41818" stroke-width="0.45" text-anchor="middle">06</text>
</g>
<g>
<rect x="476.5" y="264.1" width="44.2" height="19.3" fill="#000" fill-opacity="0.28" filter="url(#sh)"/>
<path d="M475.0,270.6 L489.5,280.4 L468.5,288.6 Z" fill="url(#pg)"/>
<rect x="474.5" y="261.6" width="44.2" height="19.3" fill="#c81616"/>
<rect x="476.7" y="263.4" width="40.0" height="15.2" fill="#fff"/>
<text x="0" y="0" transform="translate(486.0,275.2) scale(0.74,1)" font-family="Liberation Sans, sans-serif" font-weight="bold" font-size="10.4" fill="#1c78c6" stroke="#1c78c6" stroke-width="0.45" text-anchor="middle">15</text>
<g transform="translate(496.8,270.8)" fill="none" stroke="#5e5e5e" stroke-linecap="round" stroke-linejoin="round"><path d="M0,-3.6 L0,3.4" stroke-width="1.2"/><path d="M-3.9,1.3 L0,-0.9 L3.9,1.3" stroke-width="1.1"/><path d="M-1.7,3.6 L0,2.9 L1.7,3.6" stroke-width="0.9"/></g>
<text x="0" y="0" transform="translate(508.5,275.2) scale(0.74,1)" font-family="Liberation Sans, sans-serif" font-weight="bold" font-size="10.4" fill="#c41818" stroke="#c41818" stroke-width="0.45" text-anchor="middle">41</text>
</g>
<g fill="none" stroke="#9c9c9c">
<circle cx="559.2" cy="138.1" r="7.6" stroke-width="2.4"/>
<line x1="565" y1="143.5" x2="571" y2="148.5" stroke-width="2.8"/>
<line x1="555.8" y1="138.1" x2="562.6" y2="138.1" stroke-width="1.7"/>
<line x1="559.2" y1="134.7" x2="559.2" y2="141.5" stroke-width="1.7"/>
</g>
</svg>
<div class="abs nat" style="top:39.2px;left:591px;font-weight:bold;font-size:7.9px;color:#7c7c7c;letter-spacing:0.35px;">NATIONAL</div>
<div class="abs nat" style="top:53.9px;left:591px;font-style:italic;font-size:7.1px;color:#a3a3a3;line-height:7.4px;">CNN Poll of Polls</div><div class="abs nat" style="top:59.9px;font-style:italic;font-size:6.4px;color:#a3a3a3;">October 16, 2012</div>
<div class="abs" style="left:627px;top:77px;width:8.6px;height:95px;background:#2484d3;"></div>
<div class="abs" style="left:627px;top:172px;width:8.6px;height:10px;background:#ffffff;"></div>
<div class="abs" style="left:627px;top:182px;width:8.6px;height:97px;background:#d4261f;"></div>
<div class="abs" style="left:638.5px;top:123.5px;font-size:6.2px;color:#6a6a6a;line-height:7.5px;">OBAMA<br><b style="color:#2a7cc9">47%</b></div>
<div class="abs" style="left:638.5px;top:170.8px;font-size:6.2px;color:#6a6a6a;line-height:7.5px;">OTHER<br><span>5%</span></div>
<div class="abs" style="left:638.5px;top:226px;font-size:6.2px;color:#6a6a6a;line-height:7.5px;">ROMNEY<br><b style="color:#c81e1e">48%</b></div>
<svg class="abs" style="left:623.9px;top:288.9px" width="14" height="14"><circle cx="7" cy="7" r="7" fill="#757575"/><path d="M7.6,4.9 L6.6,9.8 L7.9,9.6" fill="none" stroke="#e8e8e8" stroke-width="1.1" stroke-linejoin="round"/><circle cx="7.7" cy="3.3" r="0.75" fill="#e8e8e8"/></svg>

<div class="abs" style="left:2.5px;top:385.6px;font-style:italic;font-size:6.5px;color:#8c8c8c;white-space:nowrap;transform-origin:0 0;transform:scaleX(0.95);">CNN Electoral Map</div>
<div class="abs" style="left:2px;top:397.5px;width:5.8px;height:5.6px;background:#62a6dc;"></div>
<div class="abs" style="left:9.3px;top:396.5px;font-style:italic;font-size:6.8px;color:#8c8c8c;white-space:nowrap;transform-origin:0 0;transform:scaleX(0.885);">Safe Obama</div>
<div class="abs" style="left:66.8px;top:397.5px;width:5.8px;height:5.6px;background:#add3ec;"></div>
<div class="abs" style="left:73.9px;top:396.5px;font-style:italic;font-size:6.8px;color:#8c8c8c;white-space:nowrap;transform-origin:0 0;transform:scaleX(0.885);">Leaning Obama</div>
<div class="abs" style="left:2px;top:406.8px;width:5.8px;height:5.6px;background:#df7676;"></div>
<div class="abs" style="left:9.3px;top:405.7px;font-style:italic;font-size:6.8px;color:#8c8c8c;white-space:nowrap;transform-origin:0 0;transform:scaleX(0.885);">Safe Romney</div>
<div class="abs" style="left:66.8px;top:406.8px;width:5.8px;height:5.6px;background:#f0b4b8;"></div>
<div class="abs" style="left:73.9px;top:405.7px;font-style:italic;font-size:6.8px;color:#8c8c8c;white-space:nowrap;transform-origin:0 0;transform:scaleX(0.885);">Leaning Romney</div>
<div class="abs" style="left:131px;top:406.8px;width:5.8px;height:5.6px;background:#cfcfcf;"></div>
<div class="abs" style="left:137.9px;top:405.7px;font-style:italic;font-size:6.8px;color:#8c8c8c;white-space:nowrap;transform-origin:0 0;transform:scaleX(0.885);">Toss Up</div>
<div class="abs" style="left:240.8px;top:374.5px;font-weight:bold;font-size:6.4px;color:#808080;white-space:nowrap;transform-origin:0 0;transform:scaleX(0.879);">USE THE SLIDER TO FILTER DATA OR CLICK A STATE TO ZOOM IN</div>
<div class="abs" style="left:229px;top:389px;width:208px;height:27.6px;border-radius:14px;background:#d7d7d7;box-shadow:inset 0 1px 2px rgba(0,0,0,0.15), 0 1px 0 #fff;"></div>
<div class="abs" style="left:367px;top:390.4px;width:69px;height:25px;border-radius:12.5px;background:linear-gradient(#ffffff,#f1f1f1);box-shadow:0 1px 2px rgba(0,0,0,0.25);"></div>
<div class="abs" style="left:239.8px;top:399.8px;font-weight:bold;font-size:6.6px;color:#959595;white-space:nowrap;">AD SPENDING</div>
<div class="abs" style="left:307.8px;top:399.8px;font-weight:bold;font-size:6.6px;color:#959595;white-space:nowrap;">FUNDRAISING</div>
<div class="abs" style="left:388.2px;top:399.8px;font-weight:bold;font-size:6.6px;color:#7e7e7e;white-space:nowrap;">TRAVEL</div>
<div class="abs" style="left:531.5px;top:390.4px;width:140px;height:23.6px;background:#ececec;box-shadow:0 1px 2px rgba(0,0,0,0.3);border-top:1px solid #d2d2d2;box-sizing:border-box;"></div>
<div class="abs" style="left:531.5px;top:390.4px;width:17px;height:23.2px;background:linear-gradient(#d2d2d2,#bdbdbd);"></div>
<div class="abs" style="left:548.4px;top:390.4px;width:71px;height:23.2px;background:#f7f7f7;"></div>
<div class="abs" style="left:572.2px;top:390.4px;width:1px;height:23.2px;background:#dcdcdc;"></div>
<div class="abs" style="left:595.3px;top:390.4px;width:1px;height:23.2px;background:#dcdcdc;"></div>
<div class="abs" style="left:619.2px;top:391px;width:32.4px;height:22.6px;background:#e6e6e6;border-left:1px solid #d0d0d0;box-sizing:border-box;"></div>
<div class="abs" style="left:651.6px;top:390.4px;width:1px;height:23.2px;background:#d0d0d0;"></div>
<svg class="abs" style="left:0;top:0" width="670" height="428">
<path d="M538.6,398 L542.5,402 L538.6,406" fill="none" stroke="#555" stroke-width="1.1"/>
<rect x="552.2" y="397.8" width="15" height="9.8" rx="1.2" fill="#999"/><rect x="554.3" y="396.7" width="4.8" height="2" rx="0.6" fill="#999"/>
<circle cx="562.2" cy="402.7" r="3.2" fill="#999" stroke="#f6f6f6" stroke-width="1.0"/>
<g stroke="#999" stroke-width="1.3"><line x1="578.5" y1="401.9" x2="587.1" y2="397.3"/><line x1="578.5" y1="401.9" x2="587.1" y2="406.4"/></g>
<g fill="#999"><circle cx="578.5" cy="401.9" r="2.3"/><circle cx="587.1" cy="397.3" r="2.2"/><circle cx="587.1" cy="406.4" r="2.2"/></g>
<text x="607.5" y="409" text-anchor="middle" font-family="Liberation Sans, sans-serif" font-weight="bold" font-size="16" fill="#9a9a9a">?</text>
<text x="0" y="0" transform="translate(637.5,406.6) scale(1.0,1)" text-anchor="middle" font-family="Liberation Sans, sans-serif" font-weight="bold" font-size="10.5" fill="#e8303a" stroke="#e8303a" stroke-width="0.5" letter-spacing="-1.1">CNN</text>
<path d="M657.3,400 A5.1,5.1 0 0 1 666.5,399.6" fill="none" stroke="#e0463a" stroke-width="1.2"/>
<path d="M666.5,399.6 A5.1,5.1 0 0 1 664.5,406.8" fill="none" stroke="#3aa757" stroke-width="1.2"/>
<path d="M664.5,406.8 A5.1,5.1 0 0 1 657.5,405.5" fill="none" stroke="#f6b400" stroke-width="1.2"/>
<path d="M657.5,405.5 A5.1,5.1 0 0 1 657.3,400" fill="none" stroke="#4a8fe0" stroke-width="1.2"/>
<text x="661.8" y="404.8" text-anchor="middle" font-family="Liberation Sans, sans-serif" font-size="7.5" fill="#444">g</text>
</svg>
<div class="abs" style="left:375.5px;top:416.6px;font-style:italic;font-size:6.5px;color:#8f8f8f;white-space:nowrap;transform-origin:0 0;transform:scaleX(0.926);">Data Sources: Kantar Media/CMAG (Ad spending); Center for Responsiveness in Politics (Fundraising); CNN</div>

</body></html>
